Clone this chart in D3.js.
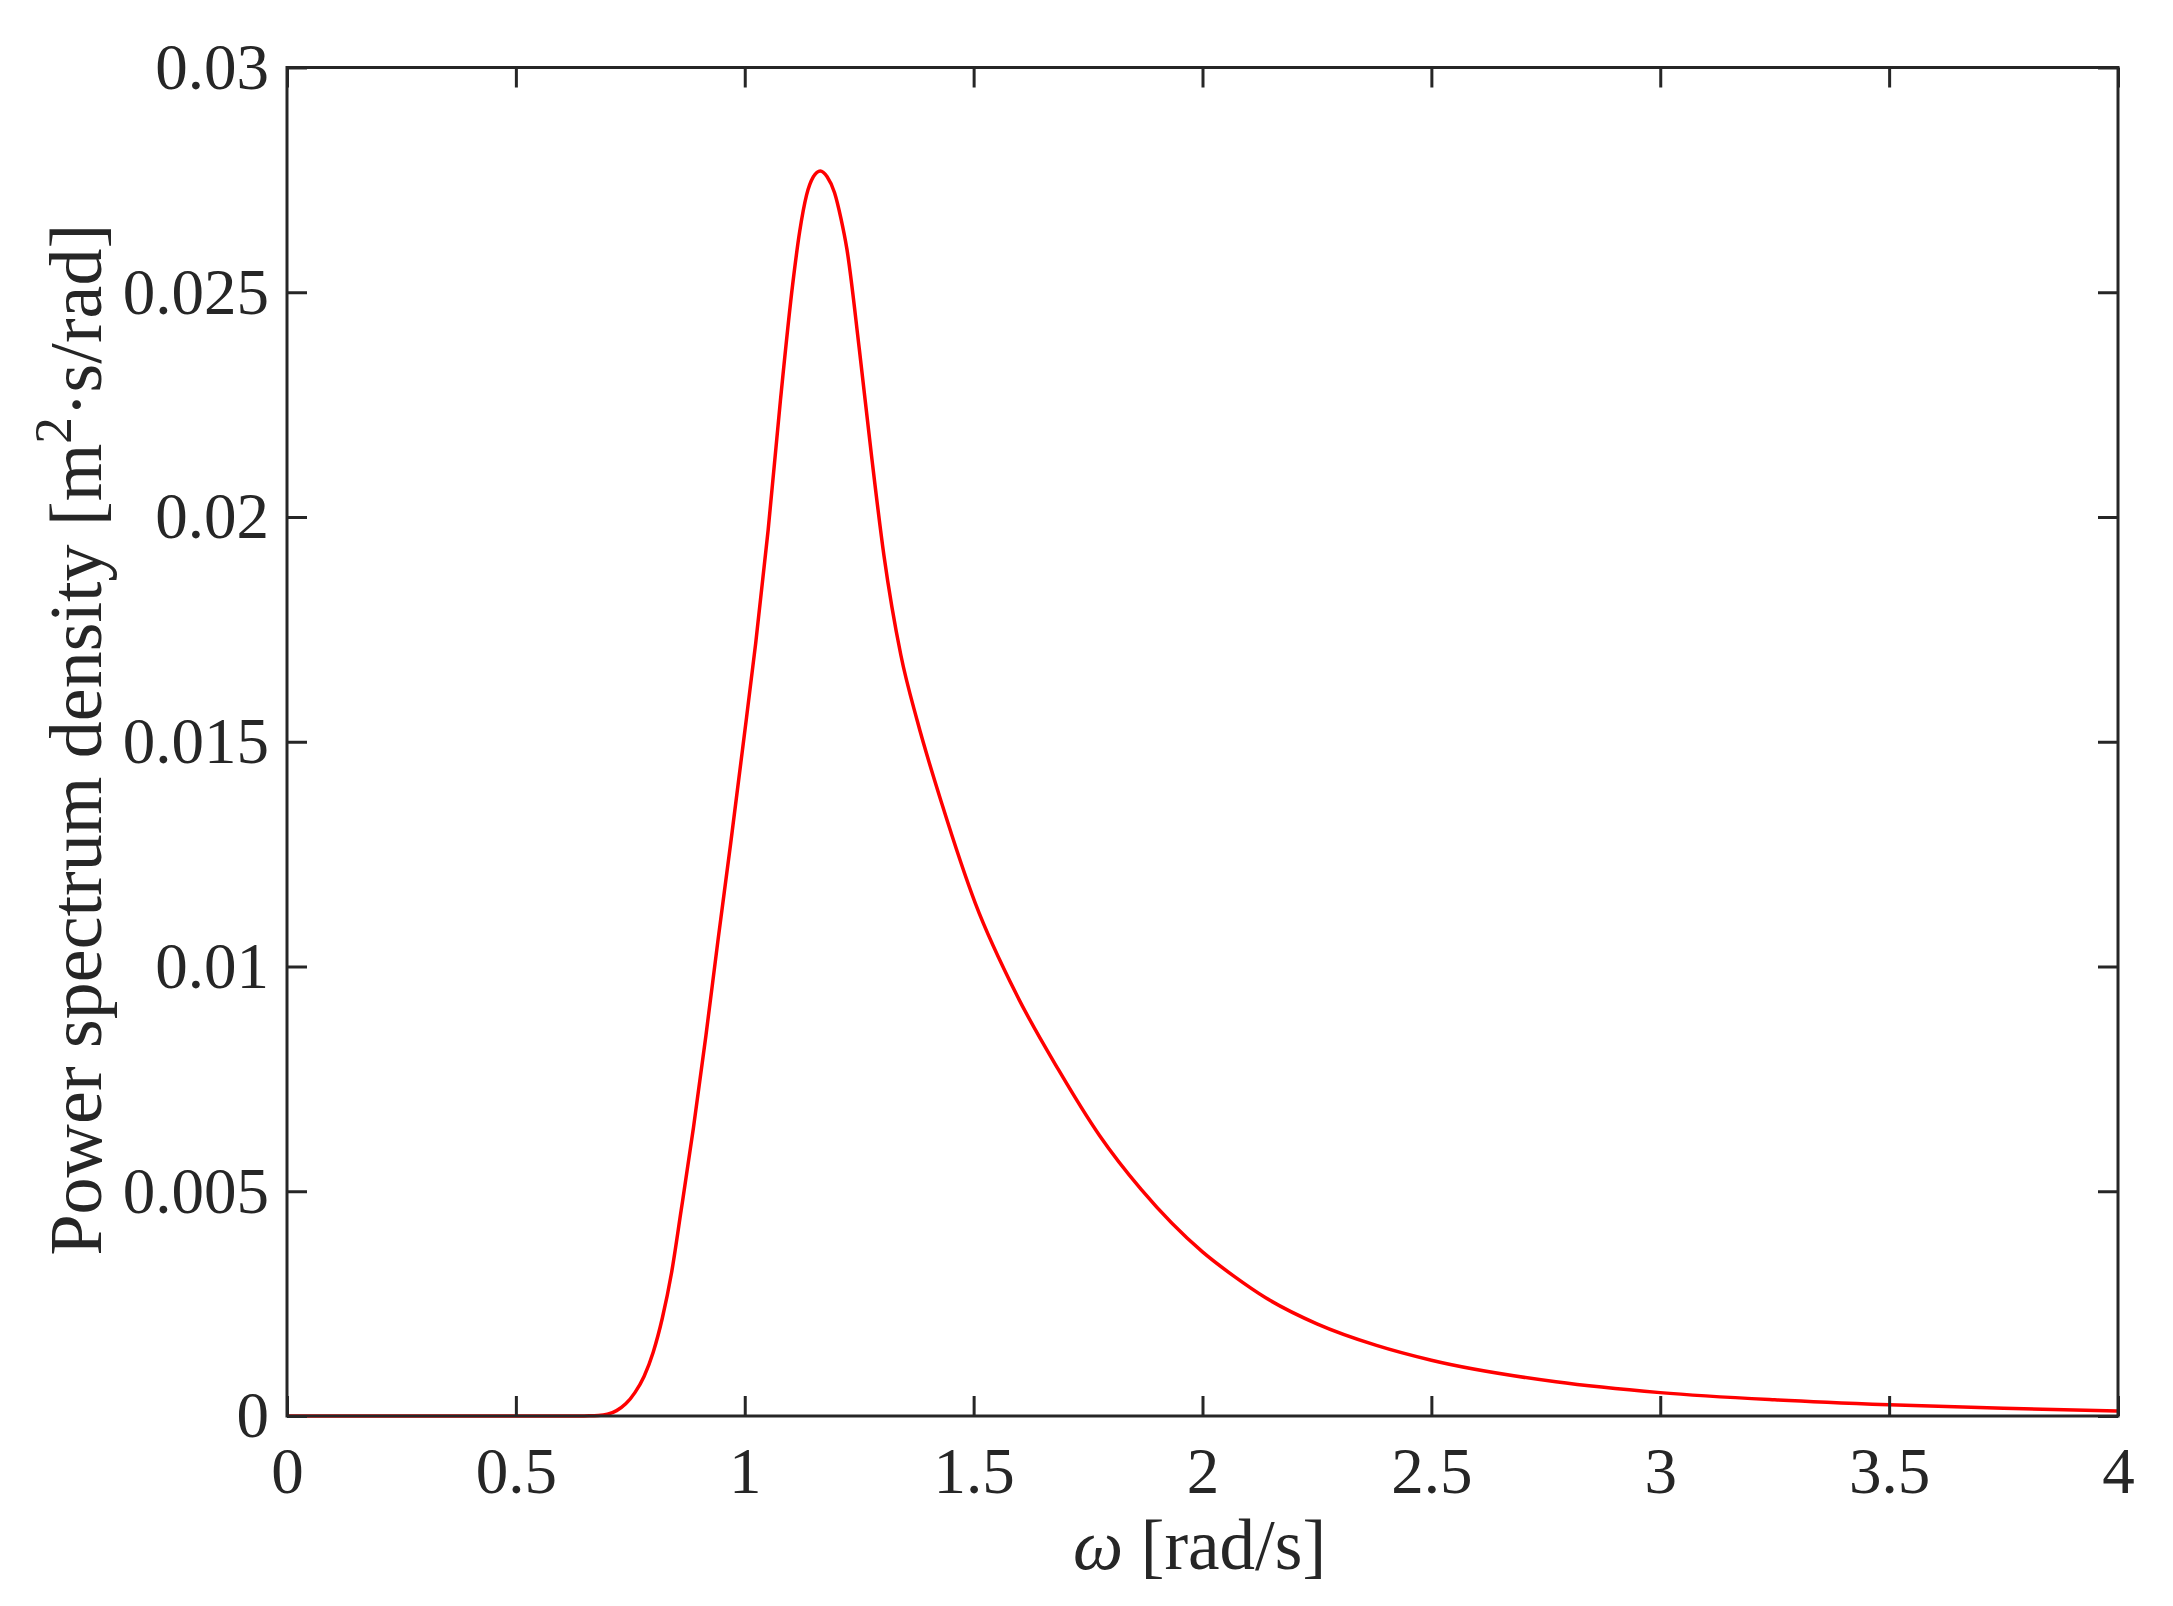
<!DOCTYPE html>
<html>
<head>
<meta charset="utf-8">
<script src="https://cdn.jsdelivr.net/npm/d3@7"></script>
<style>
  html, body { margin: 0; padding: 0; background: #ffffff; }
  svg { display: block; }
  text { font-family: "Liberation Serif", "Times New Roman", serif; fill: #262626; }
</style>
</head>
<body>
<script>
// ---- data ----
const omega = [0, 0.5, 0.62, 0.66, 0.68, 0.7, 0.72, 0.74, 0.76, 0.78, 0.8, 0.82, 0.84, 0.861, 0.888, 0.915, 0.942, 0.969, 0.996,
  1.024, 1.051, 1.078, 1.105, 1.12, 1.135, 1.15, 1.165, 1.18, 1.196, 1.21, 1.223, 1.25, 1.277, 1.304, 1.341, 1.377, 1.431,
  1.504, 1.594, 1.685, 1.775, 1.866, 2.0, 2.07, 2.138, 2.25, 2.38, 2.5, 2.772, 3.0, 3.25, 3.5, 3.75, 4.0];
const psd = [0, 0, 0, 0.000003, 0.00001, 0.00004, 0.00012, 0.00027, 0.00052, 0.00088, 0.00142, 0.00218, 0.00318, 0.00457, 0.00642, 0.00845, 0.01062, 0.01272, 0.0149,
  0.0172, 0.0197, 0.0226, 0.0252, 0.02635, 0.02716, 0.02757, 0.0277, 0.02757, 0.02722, 0.02665, 0.02597, 0.02376, 0.02136, 0.01915, 0.01693, 0.01546, 0.01361,
  0.0114, 0.00937, 0.00771, 0.00624, 0.00504, 0.00365, 0.0031, 0.00263, 0.00205, 0.00157, 0.00124, 0.00076, 0.00052, 0.00036, 0.00025, 0.00017, 0.00011];
const xTicks = [0, 0.5, 1, 1.5, 2, 2.5, 3, 3.5, 4];
const xTickLabels = ["0", "0.5", "1", "1.5", "2", "2.5", "3", "3.5", "4"];
const yTicks = [0, 0.005, 0.01, 0.015, 0.02, 0.025, 0.03];
const yTickLabels = ["0", "0.005", "0.01", "0.015", "0.02", "0.025", "0.03"];

// ---- layout ----
const W = 2173, H = 1606;
const L = 287, R = 2118, T = 67.5, B = 1416;
const axisColor = "#262626";
const tickLen = 20;
const tickFont = 65, xLabelFont = 71, yLabelFont = 74;

const svg = d3.select("body").append("svg").attr("width", W).attr("height", H);
svg.append("rect").attr("width", W).attr("height", H).attr("fill", "#ffffff");

const x = d3.scaleLinear().domain([0, 4]).range([L, R]);
const y = d3.scaleLinear().domain([0, 0.03]).range([B, T]);

// curve
const data = omega.map((w, i) => ({ w, v: psd[i] }));
const line = d3.line().x(d => x(d.w)).y(d => y(d.v)).curve(d3.curveMonotoneX);
svg.append("path").datum(data)
  .attr("d", line)
  .attr("fill", "none")
  .attr("stroke", "#ff0000")
  .attr("stroke-width", 3.5)
  .attr("stroke-linejoin", "round");

// axes (ticks inward, box on)
function styleAxis(g) {
  g.selectAll("path.domain").remove();
  g.selectAll(".tick line").attr("stroke", axisColor).attr("stroke-width", 3);
  g.selectAll(".tick text")
    .style("font-family", '"Liberation Serif", "Times New Roman", serif')
    .style("font-size", tickFont + "px")
    .attr("fill", axisColor);
}

const xAxis = d3.axisBottom(x).tickValues(xTicks).tickFormat((d, i) => xTickLabels[i])
  .tickSizeInner(-tickLen).tickSizeOuter(0).tickPadding(31);
const gx = svg.append("g").attr("transform", `translate(0,${B})`).call(xAxis);
styleAxis(gx);
gx.selectAll(".tick text").attr("dy", "0.71em");

const xAxisTop = d3.axisTop(x).tickValues(xTicks).tickFormat("").tickSizeInner(-tickLen).tickSizeOuter(0);
const gxt = svg.append("g").attr("transform", `translate(0,${T})`).call(xAxisTop);
styleAxis(gxt);

const yAxis = d3.axisLeft(y).tickValues(yTicks).tickFormat((d, i) => yTickLabels[i])
  .tickSizeInner(-tickLen).tickSizeOuter(0).tickPadding(18);
const gy = svg.append("g").attr("transform", `translate(${L},0)`).call(yAxis);
styleAxis(gy);

const yAxisRight = d3.axisRight(y).tickValues(yTicks).tickFormat("").tickSizeInner(-tickLen).tickSizeOuter(0);
const gyr = svg.append("g").attr("transform", `translate(${R},0)`).call(yAxisRight);
styleAxis(gyr);

// box
svg.append("rect")
  .attr("x", L).attr("y", T).attr("width", R - L).attr("height", B - T)
  .attr("fill", "none").attr("stroke", axisColor).attr("stroke-width", 3);

// x label
const xl = svg.append("text")
  .attr("x", (L + R) / 2 - 3).attr("y", 1569)
  .attr("text-anchor", "middle")
  .style("font-size", xLabelFont + "px");
xl.append("tspan").style("font-style", "italic").text("ω");
xl.append("tspan").text(" [rad/s]");

// y label
const yl = svg.append("text")
  .attr("transform", `translate(101,${(T + B) / 2 - 2}) rotate(-90)`)
  .attr("text-anchor", "middle")
  .style("font-size", yLabelFont + "px");
yl.append("tspan").text("Power spectrum density [m");
yl.append("tspan").attr("dy", -30).style("font-size", (yLabelFont * 0.72) + "px").text("2");
yl.append("tspan").attr("dy", 30).text("·s/rad]");
</script>
</body>
</html>
